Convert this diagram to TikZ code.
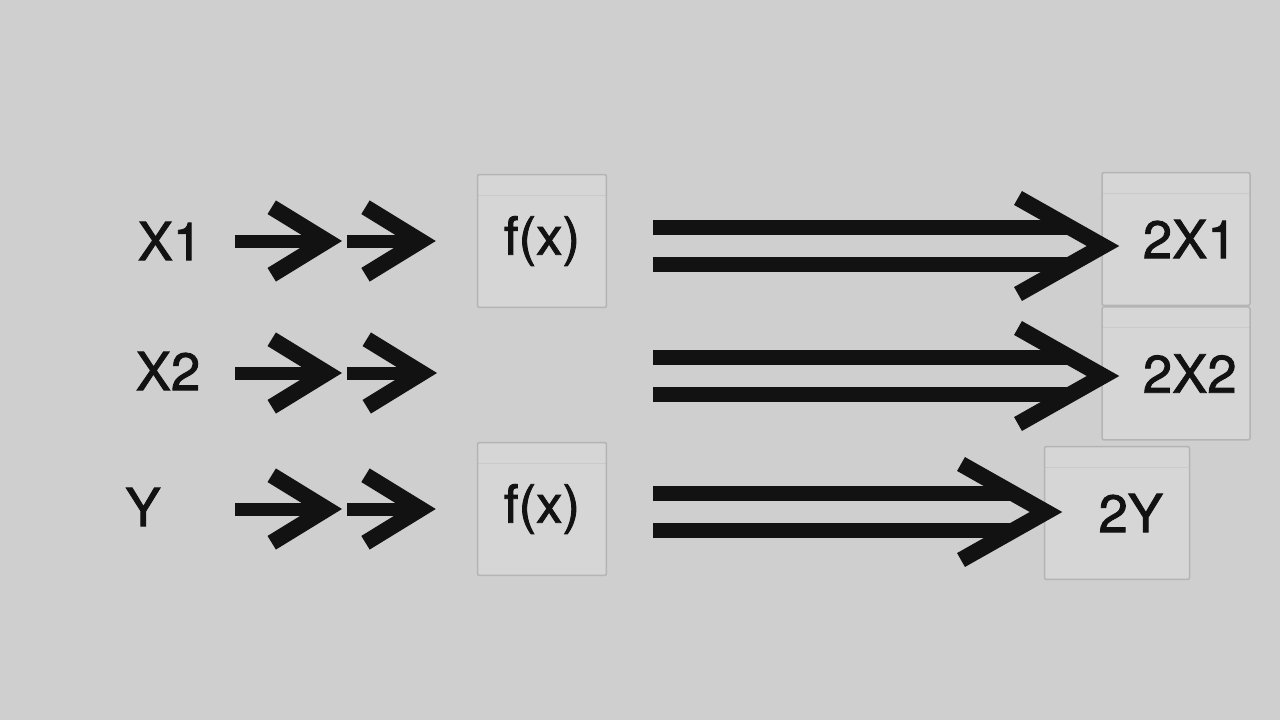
\documentclass[tikz,border=0pt]{standalone}
\usepackage{fontspec}
\newfontfamily\lblfont{TeX Gyre Heros}[FakeBold=1.6]
\usetikzlibrary{arrows.meta, positioning}
\definecolor{bgc}{RGB}{207,207,207}
\definecolor{ink}{RGB}{18,18,18}
\definecolor{boxline}{RGB}{180,180,180}
\tikzset{
	lbl/.style={font=\lblfont\fontsize{30}{30}\selectfont, text=ink, inner sep=0pt},
	glass/.style={lbl, draw=boxline, line width=0.03cm, fill=white, fill opacity=0.15, text opacity=1,
		minimum height=2.66cm, rounded corners=0.04cm,
		path picture={\draw[boxline!70!white, line width=0.02cm] ([yshift=-0.42cm]path picture bounding box.north west) -- ([yshift=-0.42cm]path picture bounding box.north east);}},
	fbox/.style={glass, minimum width=2.58cm},
	obox/.style={glass, minimum width=2.96cm, execute at begin node=\hspace*{0.55cm}},
	smallarrow/.style={draw=ink, line width=0.26cm, -{Straight Barb[length=1.1cm, width=1.35cm, line width=0.32cm]}},
	bigshaft/.style={draw=ink, line width=0.3cm, double=bgc, double distance=0.44cm, shorten >=0.6cm},
	bighead/.style={draw=ink, line width=0.32cm, line join=miter, miter limit=10}
}
\begin{document}
\begin{tikzpicture}[x=0.02cm, y=-0.02cm]
	\fill[bgc] (0,0) rectangle (1280,720);
	\node[lbl] (x1) at (170,241) {X1};
	\node[lbl] (x2) at (168,371) {X2};
	\node[lbl] (y) at (143,507) {Y};
	\node[fbox] (f1) at (542,241) {f(x)};
	\node[fbox] (f3) at (542,509) {f(x)};
	\node[obox] (o1) at (1176,239) {2X1};
	\node[obox, below=0pt of o1] (o2) {2X2};
	\node[obox, minimum width=2.9cm] (o3) at (1117,513) {2Y};
	\foreach \i/\yy in {1/241,2/373,3/509} {
		\coordinate (a\i) at (235,\yy);
		\coordinate (m\i) at (342,\yy);
	}
	\coordinate (e2) at (478,373);
	\foreach \i/\yy/\tx in {1/246/1103,2/376/1103,3/512/1046} {
		\coordinate (s\i) at (653,\yy);
		\coordinate (t\i) at (\tx,\yy);
	}
	\foreach \i/\to in {1/f1,2/e2,3/f3} {
		\draw[smallarrow] (a\i) -- (m\i);
		\draw[smallarrow, shorten <=0.1cm, shorten >=0.82cm] (m\i) -- (\to);
	}
	\foreach \i in {1,2,3} {
		\draw[bigshaft] (s\i) -- (t\i);
		\draw[bighead] ([shift={(-85,-48)}]t\i) -- (t\i) -- ([shift={(-85,48)}]t\i);
	}
\end{tikzpicture}
\end{document}
